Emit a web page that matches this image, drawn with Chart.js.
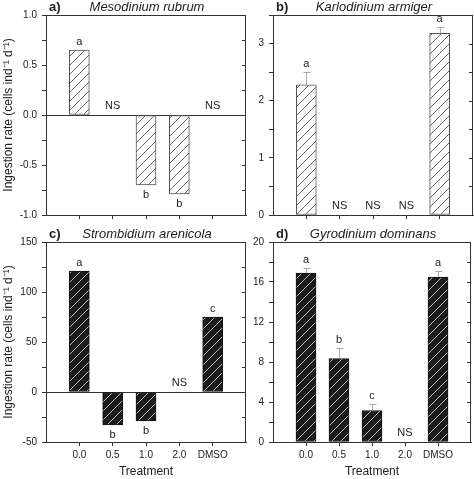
<!DOCTYPE html>
<html>
<head>
<meta charset="utf-8">
<script src="https://cdn.jsdelivr.net/npm/chart.js@4.4.0/dist/chart.umd.min.js"></script>
<style>
  html, body { margin: 0; padding: 0; background: #fff; }
  #wrap { position: relative; width: 474px; height: 479px; overflow: hidden; }
  canvas { position: absolute; }
</style>
</head>
<body>
<div id="wrap">
  <canvas id="pa" width="250" height="228" style="left:0;top:0;width:250px;height:228px"></canvas>
  <canvas id="pb" width="224" height="228" style="left:250px;top:0;width:224px;height:228px"></canvas>
  <canvas id="pc" width="250" height="253" style="left:0;top:226px;width:250px;height:253px"></canvas>
  <canvas id="pd" width="224" height="253" style="left:250px;top:226px;width:224px;height:253px"></canvas>
</div>
<script>
// treatments on the x axis
const treatments = ['0.0', '0.5', '1.0', '2.0', 'DMSO'];

// a) Mesodinium rubrum
const mesoValues = [0.65, null, -0.70, -0.79, null];
const mesoLetters = ['a', 'NS', 'b', 'b', 'NS'];

// b) Karlodinium armiger
const karloValues = [2.28, null, null, null, 3.18];
const karloErrors = [0.22, 0, 0, 0, 0.11];
const karloLetters = ['a', 'NS', 'NS', 'NS', 'a'];

// c) Strombidium arenicola
const stromValues = [121, -33, -29, null, 75];
const stromLetters = ['a', 'b', 'b', 'NS', 'c'];

// d) Gyrodinium dominans
const gyroValues = [16.9, 8.35, 3.15, null, 16.5];
const gyroErrors = [0.55, 1.1, 0.65, 0, 0.6];
const gyroLetters = ['a', 'b', 'c', 'NS', 'a'];

const yTitle = 'Ingestion rate (cells ind\u207B\u00B9 d\u207B\u00B9)';
const FONT = '"Liberation Sans", Arial, sans-serif';
const INK = '#222';
const AXIS = '#333';

function hatch(bg, fg) {
    const c = document.createElement('canvas');
    c.width = 9; c.height = 9;
    const g = c.getContext('2d');
    g.fillStyle = bg;
    g.fillRect(0, 0, 9, 9);
    g.strokeStyle = fg;
    g.lineWidth = 1;
    g.beginPath();
    g.moveTo(-1, 10); g.lineTo(10, -1);
    g.moveTo(-1, 1); g.lineTo(1, -1);
    g.moveTo(8, 10); g.lineTo(10, 8);
    g.stroke();
    return g.createPattern(c, 'repeat');
}

// frame, zero line, error bars, letters and panel headings
const decor = {
    id: 'decor',
    beforeDatasetsDraw(chart, args, o) {
        const { ctx, chartArea: a } = chart;
        const y = chart.scales.y;
        ctx.save();
        ctx.strokeStyle = AXIS;
        ctx.lineWidth = 1;
        ctx.beginPath();
        ctx.moveTo(a.left, a.top + 0.5); ctx.lineTo(a.right, a.top + 0.5);
        ctx.moveTo(a.right - 0.5, a.top); ctx.lineTo(a.right - 0.5, a.bottom);
        y.ticks.forEach(t => {
            const py = Math.round(y.getPixelForValue(t.value)) + 0.5;
            ctx.moveTo(a.right, py); ctx.lineTo(a.right - 4, py);
        });
        if (y.min < 0) {
            const z = Math.round(y.getPixelForValue(0)) + 0.5;
            ctx.moveTo(a.left, z); ctx.lineTo(a.right, z);
        }
        ctx.stroke();
        ctx.restore();
    },
    afterDatasetsDraw(chart, args, o) {
        const { ctx, chartArea: a } = chart;
        const x = chart.scales.x, y = chart.scales.y;
        ctx.save();
        // error bars
        ctx.strokeStyle = '#aaa';
        ctx.lineWidth = 1;
        (o.errors || []).forEach((e, i) => {
            const v = o.values[i];
            if (!e || v === null) return;
            const px = Math.round(x.getPixelForValue(i + 1)) + 0.5;
            const y1 = y.getPixelForValue(v), y2 = Math.round(y.getPixelForValue(v + e)) + 0.5;
            ctx.beginPath();
            ctx.moveTo(px, y1); ctx.lineTo(px, y2);
            ctx.moveTo(px - 3, y2); ctx.lineTo(px + 4, y2);
            ctx.stroke();
        });
        // significance letters
        ctx.fillStyle = INK;
        ctx.textAlign = 'center';
        ctx.textBaseline = 'middle';
        o.letters.forEach((l, i) => {
            const v = o.values[i];
            const px = x.getPixelForValue(i + 1);
            let py;
            if (v === null) {
                ctx.font = '11px ' + FONT;
                py = y.getPixelForValue(0) - 9;
            } else if (v < 0) {
                ctx.font = '11px ' + FONT;
                py = y.getPixelForValue(v) + 10;
            } else {
                ctx.font = '11px ' + FONT;
                const e = o.errors ? o.errors[i] : 0;
                py = y.getPixelForValue(v + e) - 8;
            }
            ctx.fillText(l, px, py);
        });
        // heading
        const ty = a.top - 8;
        ctx.textBaseline = 'middle';
        ctx.textAlign = 'left';
        ctx.font = 'bold 13px ' + FONT;
        ctx.fillText(o.tag, a.left + 3, ty);
        ctx.textAlign = 'center';
        ctx.font = 'italic 13px ' + FONT;
        ctx.fillText(o.title, (a.left + a.right) / 2 + 1, ty);
        ctx.restore();
    }
};

function makePanel(id, p) {
    const labels = [''].concat(treatments, ['']);
    const fmt = p.fmt;
    return new Chart(document.getElementById(id), {
        type: 'bar',
        data: {
            labels: labels,
            datasets: [{
                data: [null].concat(p.values, [null]),
                backgroundColor: p.fill,
                borderColor: p.edge,
                borderWidth: 1,
                borderSkipped: false,
                barThickness: 20
            }]
        },
        options: {
            responsive: false,
            animation: false,
            events: [],
            layout: { padding: { top: p.padTop, right: p.padRight, left: 0, bottom: 0 } },
            plugins: {
                legend: { display: false },
                tooltip: { enabled: false },
                decor: { tag: p.tag, title: p.title, values: p.values, errors: p.errors, letters: p.letters }
            },
            scales: {
                x: {
                    offset: false,
                    grid: {
                        offset: false,
                        drawOnChartArea: false,
                        tickLength: 4,
                        color: ctx => (ctx.index === 0 || ctx.index === labels.length - 1) ? 'rgba(0,0,0,0)' : AXIS
                    },
                    border: { color: AXIS },
                    ticks: {
                        display: p.showX,
                        autoSkip: false,
                        maxRotation: 0,
                        padding: 3,
                        color: INK,
                        font: { family: FONT, size: 10 }
                    },
                    title: {
                        display: p.showX,
                        text: 'Treatment',
                        color: INK,
                        font: { family: FONT, size: 12 },
                        padding: { top: 2, bottom: 0 }
                    },
                    afterFit: s => { s.height = p.xH; }
                },
                y: {
                    min: p.min,
                    max: p.max,
                    grid: { drawOnChartArea: false, tickLength: 4, color: AXIS },
                    border: { color: AXIS },
                    ticks: {
                        stepSize: p.minor,
                        padding: 5,
                        color: INK,
                        font: { family: FONT, size: 10 },
                        callback: v => {
                            const r = v / p.major;
                            return Math.abs(r - Math.round(r)) < 1e-6 ? fmt(v) : '';
                        }
                    },
                    title: {
                        display: p.showYTitle,
                        text: yTitle,
                        color: INK,
                        font: { family: FONT, size: 12 },
                        padding: { top: 1, bottom: 0 }
                    },
                    afterFit: s => { s.width = p.yW; }
                }
            }
        },
        plugins: [decor]
    });
}

const openFill = hatch('#ffffff', '#666');
const darkFill = hatch('#1c1c1c', '#bbb');

makePanel('pa', {
    tag: 'a)', title: 'Mesodinium rubrum', values: mesoValues, errors: null, letters: mesoLetters,
    fill: openFill, edge: '#555', min: -1, max: 1, minor: 0.25, major: 0.5, fmt: v => v.toFixed(1),
    padTop: 15, padRight: 4, yW: 46, xH: 13, showX: false, showYTitle: true
});
makePanel('pb', {
    tag: 'b)', title: 'Karlodinium armiger', values: karloValues, errors: karloErrors, letters: karloLetters,
    fill: openFill, edge: '#555', min: 0, max: 3.5, minor: 0.5, major: 1, fmt: v => String(v),
    padTop: 15, padRight: 1, yW: 23, xH: 13, showX: false, showYTitle: false
});
makePanel('pc', {
    tag: 'c)', title: 'Strombidium arenicola', values: stromValues, errors: null, letters: stromLetters,
    fill: darkFill, edge: '#111', min: -50, max: 150, minor: 25, major: 50, fmt: v => String(v),
    padTop: 16, padRight: 4, yW: 46, xH: 37, showX: true, showYTitle: true
});
makePanel('pd', {
    tag: 'd)', title: 'Gyrodinium dominans', values: gyroValues, errors: gyroErrors, letters: gyroLetters,
    fill: darkFill, edge: '#111', min: 0, max: 20, minor: 2, major: 4, fmt: v => String(v),
    padTop: 16, padRight: 1, yW: 23, xH: 37, showX: true, showYTitle: false
});
</script>
</body>
</html>
